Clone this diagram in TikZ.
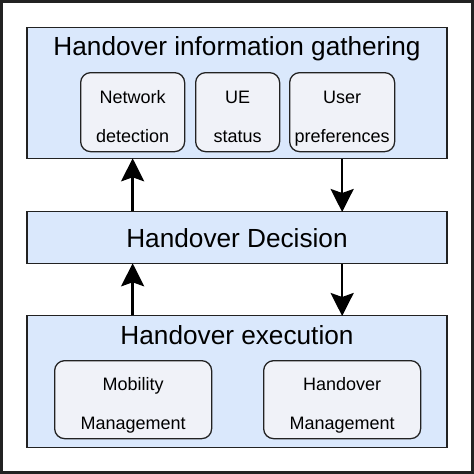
\documentclass[tikz,border=0pt]{standalone}
\usepackage{fontspec}
\setmainfont{Liberation Sans}
\usetikzlibrary{arrows.meta}

\definecolor{hoFrame}{RGB}{34,34,34}
\definecolor{hoStage}{RGB}{218,232,252}
\definecolor{hoPart}{RGB}{240,242,248}

\newcommand\hostrut{\rule[-6pt]{0pt}{33pt}}

\tikzset{
  stage/.style={draw=hoFrame, fill=hoStage, line width=1.3pt, minimum width=420pt, anchor=north},
  part/.style={draw=hoFrame, fill=hoPart, line width=1.3pt, rounded corners=10pt, anchor=north west,
    align=center, inner sep=0pt, font=\fontsize{18}{39}\selectfont},
  headline/.style={font=\fontsize{26.2}{30}\selectfont},
  flow/.style={line width=2.6pt, -{Stealth[length=23pt, width=23pt, inset=4pt]}, shorten >=-1pt}
}

\begin{document}
\begin{tikzpicture}[x=1pt, y=-1pt, thick]
  \useasboundingbox (0,0) rectangle (474,474);

  % ---- outer frame ----
  \draw[hoFrame, line width=3pt] (1.5,1.5) rectangle (472.5,472.5);

  % ---- gathering ----
  \node[stage, minimum height=131pt] (gather) at (237,27) {};
  \node[headline] (gathertitle) at (237,48.5) {Handover information gathering};
  \node[part, minimum width=104pt, minimum height=79pt] (net) at (80,72) {\hostrut Network\\\hostrut detection};
  \node[part, minimum width=84pt, minimum height=79pt] (ue) at (195,72) {\hostrut UE\\\hostrut status};
  \node[part, minimum width=105pt, minimum height=79pt] (pref) at (289,72) {\hostrut User\\\hostrut preferences};

  % ---- decision ----
  \node[stage, minimum height=52pt, headline] (decision) at (237,211) {Handover Decision};

  % ---- execution ----
  \node[stage, minimum height=132pt] (exec) at (237,315) {};
  \node[headline] (exectitle) at (237,335) {Handover execution};
  \node[part, minimum width=157pt, minimum height=78pt] (mobility) at (54,360) {\hostrut Mobility\\\hostrut Management};
  \node[part, minimum width=157pt, minimum height=78pt] (homgmt) at (263,360) {\hostrut Handover\\\hostrut Management};

  % ---- arrows ----
  \draw[flow] (decision.north -| net) -- (gather.south -| net);
  \draw[flow] (gather.south -| pref) -- (decision.north -| pref);
  \draw[flow] (exec.north -| net) -- (decision.south -| net);
  \draw[flow] (decision.south -| pref) -- (exec.north -| pref);

\end{tikzpicture}
\end{document}
